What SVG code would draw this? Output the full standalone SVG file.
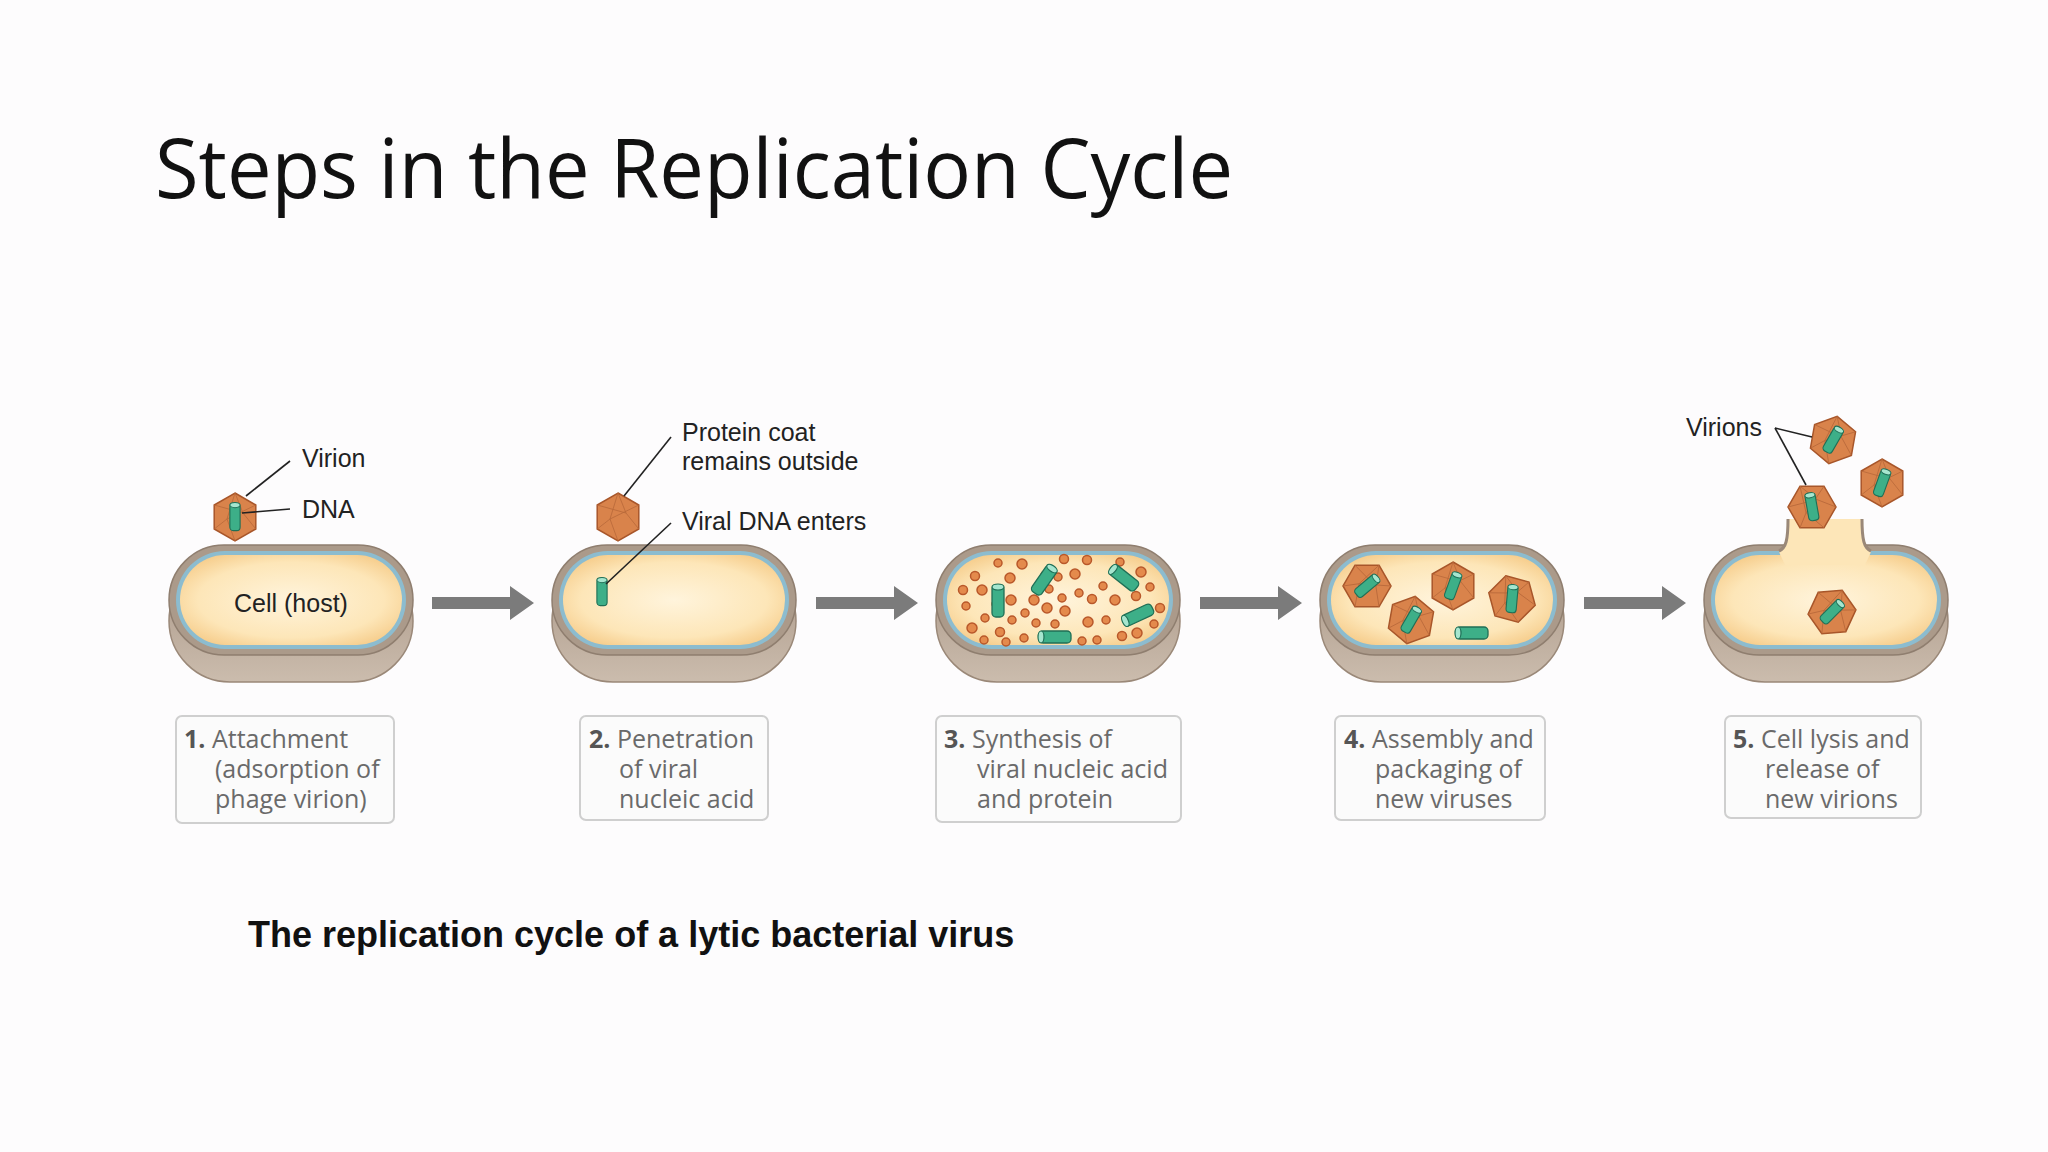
<svg xmlns="http://www.w3.org/2000/svg" xmlns:xlink="http://www.w3.org/1999/xlink" width="2048" height="1152" viewBox="0 0 2048 1152">
<style>
.lbl{font-family:"Liberation Sans",Arial,sans-serif;font-size:25px;fill:#222}
.box{fill:#fbfbfb;stroke:#cfcfcf;stroke-width:2}
.bt{font-family:"Open Sans","Noto Sans",sans-serif;font-size:25px;fill:#6a6a6a}
.num{font-weight:bold;fill:#555}
.lead{stroke:#222;stroke-width:1.6;fill:none}
.arr{fill:#7b7b7b}
.dot{fill:#e48a4c;stroke:#b9582a;stroke-width:1.5}
</style>
<defs>
<radialGradient id="cream" cx="50%" cy="50%" r="60%">
<stop offset="0" stop-color="#fff4dc"/><stop offset="0.7" stop-color="#fde6b8"/><stop offset="1" stop-color="#f6cd8c"/>
</radialGradient>
<linearGradient id="body" x1="0" y1="0" x2="0" y2="1">
<stop offset="0" stop-color="#a99686"/><stop offset="1" stop-color="#cbbcad"/>
</linearGradient>
<g id="cyl">
<rect x="-6" y="-16" width="12" height="32" rx="4" fill="#3daf88" stroke="#1f6f56" stroke-width="1.3"/>
<ellipse cx="0" cy="-14" rx="6" ry="3" fill="#a6e6cf" stroke="#1f6f56" stroke-width="1.2"/>
</g>
<g id="hex">
<polygon points="0,-24 20.8,-12 20.8,12 0,24 -20.8,12 -20.8,-12" fill="#d9834b" stroke="#a8562a" stroke-width="1.5"/>
<path d="M0,-24 L-8,2 L0,24 M20.8,-12 L-8,2 L-20.8,12 M20.8,12 L8,-4 L-20.8,-12 M8,-4 L0,-24" stroke="#b8683a" stroke-width="0.8" fill="none"/>
</g>
<g id="vir"><use href="#hex"/><use href="#cyl" transform="rotate(20) scale(0.85)"/></g>
<g id="cell">
<rect x="-122" y="15" width="244" height="122" rx="61" fill="url(#body)" stroke="#9a8878" stroke-width="1.5"/>
<rect x="-122" y="0" width="244" height="110" rx="55" fill="#ab9a8a" stroke="#8f7e6f" stroke-width="1.5"/>
<rect x="-115" y="6" width="230" height="98" rx="49" fill="#8cbccf"/>
<rect x="-111" y="10" width="222" height="90" rx="45" fill="url(#cream)"/>
</g>
</defs>
<rect width="2048" height="1152" fill="#fdfcfd"/>
<text x="155" y="198" font-family="Open Sans,Noto Sans,sans-serif" font-size="82" fill="#111" textLength="1078" lengthAdjust="spacingAndGlyphs">Steps in the Replication Cycle</text>

<g id="connectors">
<polygon class="arr" points="432,597 510,597 510,586 534,603 510,620 510,609 432,609"/>
<polygon class="arr" points="816,597 894,597 894,586 918,603 894,620 894,609 816,609"/>
<polygon class="arr" points="1200,597 1278,597 1278,586 1302,603 1278,620 1278,609 1200,609"/>
<polygon class="arr" points="1584,597 1662,597 1662,586 1686,603 1662,620 1662,609 1584,609"/>
</g>

<g id="cell1">
<use href="#cell" transform="translate(291,545)"/>
<text class="lbl" x="291" y="612" text-anchor="middle">Cell (host)</text>
<use href="#hex" transform="translate(235,517)"/>
<use href="#cyl" transform="translate(235,517) scale(0.85)"/>
<line class="lead" x1="246" y1="496" x2="290" y2="461"/>
<line class="lead" x1="242" y1="513" x2="290" y2="509"/>
<text class="lbl" x="302" y="467">Virion</text>
<text class="lbl" x="302" y="518">DNA</text>
</g>

<g id="cell2">
<use href="#cell" transform="translate(674,545)"/>
<use href="#hex" transform="translate(618,517)"/>
<use href="#cyl" transform="translate(602,592) scale(0.85)"/>
<line class="lead" x1="624" y1="496" x2="671" y2="437"/>
<line class="lead" x1="606" y1="584" x2="671" y2="523"/>
<text class="lbl" x="682" y="441">Protein coat</text>
<text class="lbl" x="682" y="470">remains outside</text>
<text class="lbl" x="682" y="530">Viral DNA enters</text>
</g>

<g id="cell3">
<use href="#cell" transform="translate(1058,545)"/>
<g>
<circle class="dot" cx="963" cy="590" r="4.5"/><circle class="dot" cx="966" cy="606" r="4"/><circle class="dot" cx="975" cy="576" r="4.5"/>
<circle class="dot" cx="982" cy="590" r="5"/><circle class="dot" cx="972" cy="628" r="5"/><circle class="dot" cx="985" cy="618" r="4"/>
<circle class="dot" cx="984" cy="640" r="4"/><circle class="dot" cx="998" cy="563" r="4"/><circle class="dot" cx="1000" cy="632" r="4.5"/>
<circle class="dot" cx="1010" cy="578" r="5"/><circle class="dot" cx="1011" cy="600" r="5"/><circle class="dot" cx="1012" cy="620" r="4"/>
<circle class="dot" cx="1006" cy="642" r="4"/><circle class="dot" cx="1022" cy="564" r="5"/><circle class="dot" cx="1025" cy="613" r="4"/>
<circle class="dot" cx="1024" cy="638" r="4"/><circle class="dot" cx="1034" cy="600" r="5"/><circle class="dot" cx="1036" cy="623" r="4"/>
<circle class="dot" cx="1047" cy="608" r="5"/><circle class="dot" cx="1049" cy="589" r="4"/><circle class="dot" cx="1055" cy="624" r="4"/>
<circle class="dot" cx="1058" cy="577" r="4"/><circle class="dot" cx="1064" cy="559" r="4.5"/><circle class="dot" cx="1062" cy="598" r="4"/>
<circle class="dot" cx="1065" cy="611" r="5"/><circle class="dot" cx="1075" cy="574" r="5"/><circle class="dot" cx="1079" cy="593" r="4"/>
<circle class="dot" cx="1082" cy="641" r="4"/><circle class="dot" cx="1087" cy="560" r="4.5"/><circle class="dot" cx="1088" cy="622" r="5"/>
<circle class="dot" cx="1092" cy="599" r="4.5"/><circle class="dot" cx="1097" cy="640" r="4"/><circle class="dot" cx="1103" cy="586" r="4"/>
<circle class="dot" cx="1106" cy="620" r="4"/><circle class="dot" cx="1115" cy="600" r="5"/><circle class="dot" cx="1120" cy="562" r="4"/>
<circle class="dot" cx="1122" cy="636" r="4.5"/><circle class="dot" cx="1136" cy="596" r="4.5"/><circle class="dot" cx="1141" cy="572" r="5"/>
<circle class="dot" cx="1137" cy="633" r="5"/><circle class="dot" cx="1150" cy="587" r="4"/><circle class="dot" cx="1160" cy="608" r="4.5"/>
<circle class="dot" cx="1154" cy="624" r="4"/><circle class="dot" cx="1045" cy="575" r="4"/><circle class="dot" cx="996" cy="604" r="4"/>
</g>
<use href="#cyl" transform="translate(998,601)"/>
<use href="#cyl" transform="translate(1044,580) rotate(35)"/>
<use href="#cyl" transform="translate(1124,578) rotate(-52)"/>
<use href="#cyl" transform="translate(1138,615) rotate(-115)"/>
<use href="#cyl" transform="translate(1055,637) rotate(-90)"/>
</g>

<g id="cell4">
<use href="#cell" transform="translate(1442,545)"/>
<use href="#vir" transform="translate(1367,586) rotate(30)"/>
<use href="#vir" transform="translate(1453,586) rotate(0)"/>
<use href="#vir" transform="translate(1512,599) rotate(-15)"/>
<use href="#vir" transform="translate(1411,620) rotate(10)"/>
<use href="#cyl" transform="translate(1472,633) rotate(-90)"/>
</g>

<g id="cell5">
<use href="#cell" transform="translate(1826,545)"/>
<path d="M1779,552 C1786,548 1788,540 1788,519 L1862,519 C1862,540 1864,548 1871,552 L1865,565 L1785,565 Z" fill="#fde6b8"/>
<path d="M1779,551 C1786,548 1788,540 1788,519 M1862,519 C1862,540 1864,548 1871,551" stroke="#9a8878" stroke-width="3" fill="none"/>
<use href="#vir" transform="translate(1833,440) rotate(10)"/>
<use href="#vir" transform="translate(1882,483)"/>
<use href="#vir" transform="translate(1812,507) rotate(-30)"/>
<use href="#vir" transform="translate(1832,612) rotate(25)"/>
<line class="lead" x1="1775" y1="428" x2="1812" y2="437"/>
<line class="lead" x1="1775" y1="428" x2="1806" y2="485"/>
<text class="lbl" x="1686" y="436">Virions</text>
</g>

<g id="step1"><rect class="box" x="176" y="716" width="218" height="107" rx="6"/>
<text class="bt" x="184" y="748"><tspan class="num">1.</tspan> Attachment</text>
<text class="bt" x="215" y="778">(adsorption of</text><text class="bt" x="215" y="808">phage virion)</text></g>
<g id="step2"><rect class="box" x="580" y="716" width="188" height="104" rx="6"/>
<text class="bt" x="589" y="748"><tspan class="num">2.</tspan> Penetration</text>
<text class="bt" x="619" y="778">of viral</text><text class="bt" x="619" y="808">nucleic acid</text></g>
<g id="step3"><rect class="box" x="936" y="716" width="245" height="106" rx="6"/>
<text class="bt" x="944" y="748"><tspan class="num">3.</tspan> Synthesis of</text>
<text class="bt" x="977" y="778">viral nucleic acid</text><text class="bt" x="977" y="808">and protein</text></g>
<g id="step4"><rect class="box" x="1335" y="716" width="210" height="104" rx="6"/>
<text class="bt" x="1344" y="748"><tspan class="num">4.</tspan> Assembly and</text>
<text class="bt" x="1375" y="778">packaging of</text><text class="bt" x="1375" y="808">new viruses</text></g>
<g id="step5"><rect class="box" x="1725" y="716" width="196" height="102" rx="6"/>
<text class="bt" x="1733" y="748"><tspan class="num">5.</tspan> Cell lysis and</text>
<text class="bt" x="1765" y="778">release of</text><text class="bt" x="1765" y="808">new virions</text></g>

<text x="248" y="947" font-family="Liberation Sans,Arial,sans-serif" font-size="36" font-weight="bold" fill="#111">The replication cycle of a lytic bacterial virus</text>
</svg>
